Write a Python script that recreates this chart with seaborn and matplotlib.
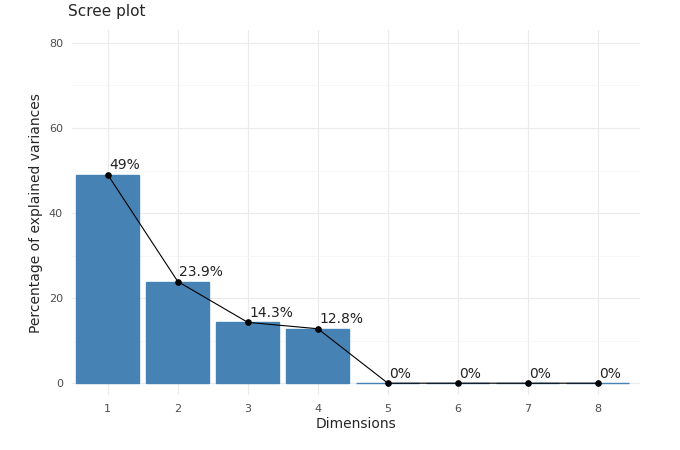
import matplotlib
matplotlib.use("Agg")
import matplotlib.pyplot as plt
import seaborn as sns
import pandas as pd

dims = [1, 2, 3, 4, 5, 6, 7, 8]
variance = [49.0, 23.9, 14.3, 12.8, 0.0, 0.0, 0.0, 0.0]
labels = ["49%", "23.9%", "14.3%", "12.8%", "0%", "0%", "0%", "0%"]
yticks = [0, 20, 40, 60, 80]

sns.set_theme(style="whitegrid")
plt.rcParams['font.family'] = ['DejaVu Sans']
df = pd.DataFrame({"dim": dims, "var": variance})

fig = plt.figure(figsize=(6.8, 4.5), dpi=100)
ax = fig.add_axes([0.106, 0.122, 0.835, 0.811])
ax.bar(df["dim"], df["var"], width=0.9, color="#4682B4", edgecolor="#4682B4")
sns.lineplot(data=df, x="dim", y="var", ax=ax, color="black", lw=0.8,
             marker="o", markersize=4, markeredgecolor="black")
for d, v, l in zip(dims, variance, labels):
    ax.text(d + 0.02, v + 0.6, l, fontsize=10, ha="left", va="bottom", color="#222222")

ax.set_xlim(0.49, 8.6)
ax.set_ylim(-2.8, 83)
ax.set_xticks(dims)
ax.set_yticks(yticks)
ax.set_yticks([10, 30, 50, 70], minor=True)
ax.tick_params(axis="both", labelsize=8, colors="#4d4d4d", length=3)
ax.tick_params(axis="y", which="minor", length=0)
ax.set_xlabel("Dimensions", fontsize=10, labelpad=2)
ax.set_ylabel("Percentage of explained variances", fontsize=10)
for s in ax.spines.values():
    s.set_visible(False)
ax.grid(which="major", color="#ebebeb", linewidth=0.8)
ax.grid(which="minor", axis="y", color="#f4f4f4", linewidth=0.5)
ax.set_facecolor("white")
fig.text(0.1, 0.975, "Scree plot", fontsize=11, ha="left", va="center")
fig.savefig("out.png", dpi=100)
